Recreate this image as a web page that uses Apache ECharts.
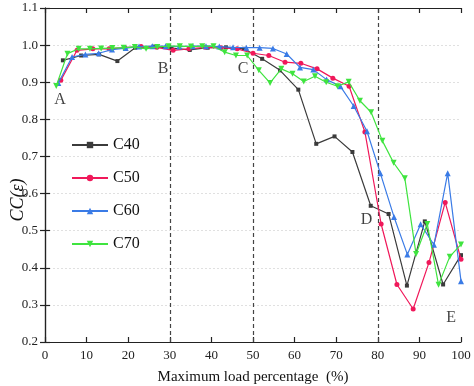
<!DOCTYPE html>
<html>
<head>
<meta charset="utf-8">
<script src="https://cdn.jsdelivr.net/npm/echarts@6/dist/echarts.min.js"></script>
<style>
html,body{margin:0;padding:0;background:#fff;}
#chart{width:474px;height:386px;}
</style>
</head>
<body>
<div id="chart"></div>
<script>
const seriesNames = ['C40', 'C50', 'C60', 'C70'];

const c40X = [4.3, 8.7, 13.0, 17.4, 21.7, 26.1, 30.4, 34.8, 39.1, 43.5, 47.8, 52.2, 56.5, 60.9, 65.2, 69.6, 73.9, 78.3, 82.6, 87.0, 91.3, 95.7, 100];
const c40Y = [0.959, 0.972, 0.975, 0.957, 0.993, 0.996, 0.992, 0.987, 0.993, 0.994, 0.990, 0.963, 0.932, 0.880, 0.734, 0.754, 0.712, 0.567, 0.545, 0.352, 0.525, 0.355, 0.434];

const c50X = [3.8, 7.7, 11.5, 15.4, 19.2, 23.1, 26.9, 30.8, 34.6, 38.5, 42.3, 46.2, 50.0, 53.8, 57.7, 61.5, 65.4, 69.2, 73.1, 76.9, 80.8, 84.6, 88.5, 92.3, 96.2, 100];
const c50Y = [0.905, 0.986, 0.990, 0.990, 0.993, 0.996, 0.994, 0.986, 0.990, 0.994, 0.993, 0.990, 0.978, 0.972, 0.954, 0.951, 0.936, 0.911, 0.889, 0.766, 0.518, 0.355, 0.289, 0.414, 0.576, 0.423];

const c60X = [3.2, 6.5, 9.7, 12.9, 16.1, 19.4, 22.6, 25.8, 29.0, 32.3, 35.5, 38.7, 41.9, 45.2, 48.4, 51.6, 54.8, 58.1, 61.3, 64.5, 67.7, 71.0, 74.2, 77.4, 80.6, 83.9, 87.1, 90.3, 93.5, 96.8, 100];
const c60Y = [0.898, 0.968, 0.975, 0.978, 0.988, 0.992, 0.996, 0.997, 0.997, 0.996, 0.997, 0.997, 0.996, 0.994, 0.993, 0.993, 0.991, 0.976, 0.940, 0.934, 0.907, 0.889, 0.836, 0.768, 0.655, 0.537, 0.436, 0.517, 0.462, 0.655, 0.364];

const c70X = [2.7, 5.4, 8.1, 10.8, 13.5, 16.2, 18.9, 21.6, 24.3, 27.0, 29.7, 32.4, 35.1, 37.8, 40.5, 43.2, 45.9, 48.6, 51.4, 54.1, 56.8, 59.5, 62.2, 64.9, 67.6, 70.3, 73.0, 75.7, 78.4, 81.1, 83.8, 86.5, 89.2, 91.9, 94.6, 97.3, 100];
const c70Y = [0.890, 0.977, 0.990, 0.990, 0.991, 0.992, 0.993, 0.995, 0.990, 0.995, 0.997, 0.997, 0.996, 0.997, 0.997, 0.981, 0.972, 0.972, 0.932, 0.898, 0.936, 0.923, 0.902, 0.916, 0.900, 0.889, 0.901, 0.850, 0.819, 0.742, 0.683, 0.641, 0.437, 0.518, 0.354, 0.430, 0.463];

const stageLines = [30, 50, 80];
const annoText = ['A', 'B', 'C', 'D', 'E'];
const annoX = [3.6, 28.4, 47.6, 77.3, 97.6];
const annoY = [0.852, 0.937, 0.937, 0.529, 0.265];

const xTicks = {min: 0, max: 100, interval: 10};
const yTicks = {min: 0.2, max: 1.1, interval: 0.1};

const colors = ['#3b3b3b', '#f0185a', '#3a7be6', '#3fe43f'];
const symbols = ['rect', 'circle', 'triangle', 'triangle'];
const symbolSizes = [4, 5, 6, 6];
const symbolRotates = [0, 0, 0, 180];
const serif = '"Liberation Serif", "DejaVu Serif", serif';

const xs = [c40X, c50X, c60X, c70X];
const ys = [c40Y, c50Y, c60Y, c70Y];

const chart = echarts.init(document.getElementById('chart'), null, {renderer: 'canvas'});

const lineSeries = seriesNames.map((name, i) => {
  const s = {
    name: name,
    type: 'line',
    data: xs[i].map((x, j) => [x, ys[i][j]]),
    symbol: symbols[i],
    symbolSize: symbolSizes[i],
    symbolRotate: symbolRotates[i],
    showSymbol: true,
    color: colors[i],
    lineStyle: {width: 1.2, color: colors[i]},
    itemStyle: {color: colors[i]},
    z: 3 + i
  };
  if (i === 0) {
    s.markLine = {
      silent: true,
      symbol: ['none', 'none'],
      label: {show: false},
      lineStyle: {type: [4, 3], color: '#444', width: 1.2},
      data: stageLines.map(v => ({xAxis: v})),
      z: 1
    };
  }
  return s;
});

const annoSeries = {
  name: 'anno',
  type: 'scatter',
  symbolSize: 0,
  silent: true,
  data: annoX.map((x, i) => ({value: [x, annoY[i]], name: annoText[i]})),
  label: {
    show: true,
    position: 'inside',
    formatter: p => p.name,
    fontFamily: serif,
    fontSize: 16,
    color: '#111'
  },
  z: 10
};

const axisLineStyle = {color: '#222', width: 1.2};

const option = {
  animation: false,
  backgroundColor: '#fff',
  grid: {left: 45, right: 13, top: 8, bottom: 44, containLabel: false, outerBoundsMode: 'none'},
  legend: {
    data: seriesNames,
    orient: 'vertical',
    left: 66,
    top: 132,
    itemWidth: 36,
    itemHeight: 8,
    itemGap: 17,
    textStyle: {fontFamily: serif, fontSize: 16, color: '#111'}
  },
  graphic: [{
    type: 'text',
    x: 18,
    y: 200,
    rotation: Math.PI / 2,
    silent: true,
    style: {
      text: 'CC(ε)',
      fontFamily: serif,
      fontSize: 18,
      fontStyle: 'italic',
      fill: '#111',
      textAlign: 'center',
      textVerticalAlign: 'middle'
    }
  }],
  xAxis: [{
    type: 'value',
    min: xTicks.min, max: xTicks.max, interval: xTicks.interval,
    position: 'bottom',
    name: 'Maximum load percentage  (%)',
    nameLocation: 'middle',
    nameGap: 28,
    nameTextStyle: {fontFamily: serif, fontSize: 15, color: '#111'},
    axisLine: {show: true, lineStyle: axisLineStyle},
    axisTick: {show: true, inside: true, length: 5, lineStyle: axisLineStyle},
    axisLabel: {fontFamily: serif, fontSize: 13, color: '#222', margin: 7},
    splitLine: {show: false}
  }, {
    type: 'value',
    min: xTicks.min, max: xTicks.max, interval: xTicks.interval,
    position: 'top',
    axisLine: {show: true, lineStyle: axisLineStyle},
    axisTick: {show: true, inside: true, length: 5, lineStyle: axisLineStyle},
    axisLabel: {show: false},
    splitLine: {show: false}
  }],
  yAxis: [{
    type: 'value',
    min: yTicks.min, max: yTicks.max, interval: yTicks.interval,
    position: 'left',
    axisLine: {show: true, lineStyle: axisLineStyle},
    axisTick: {show: true, inside: true, length: 5, lineStyle: axisLineStyle},
    axisLabel: {fontFamily: serif, fontSize: 13, color: '#222', margin: 7, formatter: v => v.toFixed(1)},
    splitLine: {show: true, lineStyle: {type: [2, 2], color: '#d8d8d8', width: 0.8}}
  }, {
    type: 'value',
    min: yTicks.min, max: yTicks.max, interval: yTicks.interval,
    position: 'right',
    axisLine: {show: true, lineStyle: axisLineStyle},
    axisTick: {show: true, inside: true, length: 5, lineStyle: axisLineStyle},
    axisLabel: {show: false},
    splitLine: {show: false}
  }],
  series: lineSeries.concat([annoSeries])
};

chart.setOption(option);
</script>
</body>
</html>
